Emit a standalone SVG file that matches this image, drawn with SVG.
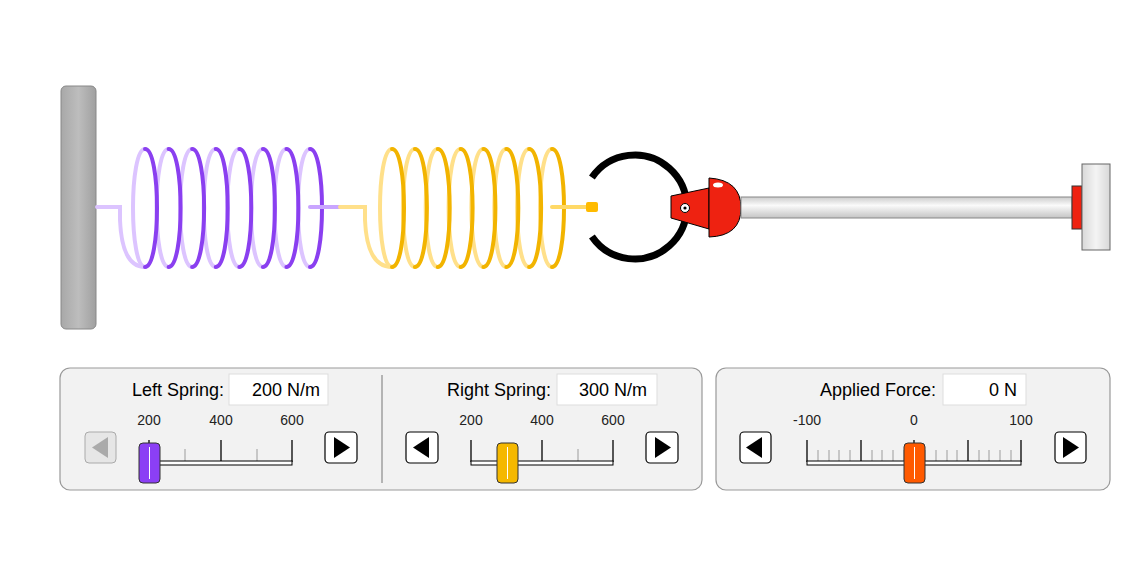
<svg xmlns="http://www.w3.org/2000/svg" width="1133" height="574" viewBox="0 0 1133 574">
<style>
text{font-family:"Liberation Sans",Arial,sans-serif;fill:#000}
.lbl{font-size:18px}
.tk{font-size:14px;fill:#222}
.panel{fill:#f2f2f2;stroke:#999;stroke-width:1.2}
.box{fill:#fff;stroke:#ddd}
.btn{fill:#fff;stroke:#000;stroke-width:1.2}
.maj{stroke:#000;stroke-width:1.3}
.min{stroke:#aaa;stroke-width:1.2}
.track{fill:#fff;stroke:#000;stroke-width:1}
</style>
<defs>
<linearGradient id="wall" x1="0" x2="1"><stop offset="0" stop-color="#a8a8a8"/><stop offset="0.5" stop-color="#bdbdbd"/><stop offset="1" stop-color="#a0a0a0"/></linearGradient>
<linearGradient id="rod" x1="0" y1="0" x2="0" y2="1"><stop offset="0" stop-color="#ccc"/><stop offset="0.4" stop-color="#fafafa"/><stop offset="1" stop-color="#c4c4c4"/></linearGradient>
<linearGradient id="plate" x1="0" x2="1"><stop offset="0" stop-color="#d8d8d8"/><stop offset="0.5" stop-color="#f4f4f4"/><stop offset="1" stop-color="#d8d8d8"/></linearGradient>
</defs>

<g id="wall-left"><rect x="61" y="86" width="35" height="243" rx="5" fill="url(#wall)" stroke="#888"/></g>

<g id="left-spring" fill="none" stroke-width="4" stroke-linecap="round">
<path d="M97 207 H120 V220 Q122 267 145 267" stroke="#dcc4ff"/>
<g stroke="#dcc4ff">
<path d="M145 267 C129 267 129 149 145 149"/><path d="M168.6 267 C152.6 267 152.6 149 168.6 149"/><path d="M192.1 267 C176.1 267 176.1 149 192.1 149"/><path d="M215.7 267 C199.7 267 199.7 149 215.7 149"/><path d="M239.3 267 C223.3 267 223.3 149 239.3 149"/><path d="M262.9 267 C246.9 267 246.9 149 262.9 149"/><path d="M286.4 267 C270.4 267 270.4 149 286.4 149"/><path d="M310 267 C294 267 294 149 310 149"/>
</g>
<g stroke="#8a3ff0">
<path d="M145 149 C161 149 161 267 145 267"/><path d="M168.6 149 C184.6 149 184.6 267 168.6 267"/><path d="M192.1 149 C208.1 149 208.1 267 192.1 267"/><path d="M215.7 149 C231.7 149 231.7 267 215.7 267"/><path d="M239.3 149 C255.3 149 255.3 267 239.3 267"/><path d="M262.9 149 C278.9 149 278.9 267 262.9 267"/><path d="M286.4 149 C302.4 149 302.4 267 286.4 267"/><path d="M310 149 C326 149 326 267 310 267"/>
</g>
<path d="M310 207 H340" stroke="#c9a5ff"/>
</g>

<g id="right-spring" fill="none" stroke-width="4" stroke-linecap="round">
<path d="M340 207 H365 V220 Q367 267 392 267" stroke="#ffe08a"/>
<g stroke="#ffe08a">
<path d="M392 267 C376 267 376 149 392 149"/><path d="M414.9 267 C398.9 267 398.9 149 414.9 149"/><path d="M437.7 267 C421.7 267 421.7 149 437.7 149"/><path d="M460.6 267 C444.6 267 444.6 149 460.6 149"/><path d="M483.4 267 C467.4 267 467.4 149 483.4 149"/><path d="M506.3 267 C490.3 267 490.3 149 506.3 149"/><path d="M529.1 267 C513.1 267 513.1 149 529.1 149"/><path d="M552 267 C536 267 536 149 552 149"/>
</g>
<g stroke="#f2b400">
<path d="M392 149 C408 149 408 267 392 267"/><path d="M414.9 149 C430.9 149 430.9 267 414.9 267"/><path d="M437.7 149 C453.7 149 453.7 267 437.7 267"/><path d="M460.6 149 C476.6 149 476.6 267 460.6 267"/><path d="M483.4 149 C499.4 149 499.4 267 483.4 267"/><path d="M506.3 149 C522.3 149 522.3 267 506.3 267"/><path d="M529.1 149 C545.1 149 545.1 267 529.1 267"/><path d="M552 149 C568 149 568 267 552 267"/>
</g>
<path d="M552 207 H588" stroke="#ffd966"/>
<rect x="586" y="202" width="12" height="10" rx="2" fill="#ffbb00" stroke="none"/>
</g>

<g id="hook">
<path d="M591.9 177.5 A52 52 0 1 1 591.9 236.5" fill="none" stroke="#000" stroke-width="7"/>
<polygon points="671,196 709,188 709,229 671,218" fill="#ee2211" stroke="#000"/>
<circle cx="685" cy="208" r="4.5" fill="#fff" stroke="#000"/><circle cx="685" cy="208" r="1.6" fill="#000"/>
<path d="M709 178 Q741 180 741 208 Q741 236 709 237 Z" fill="#ee2211" stroke="#000"/>
<ellipse cx="718" cy="185" rx="5" ry="2.5" fill="#fff"/>
</g>

<g id="rod">
<rect x="741" y="197" width="331" height="21" fill="url(#rod)" stroke="#888"/>
<rect x="1072" y="186" width="10" height="43" fill="#ee2211" stroke="#333"/>
<rect x="1082" y="164" width="28" height="86" fill="url(#plate)" stroke="#666"/>
</g>

<g id="panel-springs">
<rect class="panel" x="60" y="368" width="642" height="122" rx="10"/>
<line x1="382" y1="375" x2="382" y2="483" stroke="#777"/>
<text class="lbl" x="224" y="396" text-anchor="end">Left Spring:</text>
<rect class="box" x="229" y="374" width="99" height="31"/>
<text class="lbl" x="320" y="396" text-anchor="end">200 N/m</text>
<text class="tk" x="149" y="425" text-anchor="middle">200</text><text class="tk" x="221" y="425" text-anchor="middle">400</text><text class="tk" x="292" y="425" text-anchor="middle">600</text>
<line class="maj" x1="149" y1="440" x2="149" y2="462"/><line class="maj" x1="221" y1="440" x2="221" y2="462"/><line class="maj" x1="292" y1="440" x2="292" y2="462"/>
<line class="min" x1="185" y1="449" x2="185" y2="462"/><line class="min" x1="257" y1="449" x2="257" y2="462"/>
<rect class="track" x="149" y="461" width="143" height="4"/>
<rect x="85" y="432" width="31" height="31" rx="4" fill="#e6e6e6" stroke="#aaa"/>
<polygon points="108,437 108,458 92,447.5" fill="#aaa"/>
<rect class="btn" x="325" y="432" width="32" height="31" rx="4"/>
<polygon points="334,437 334,458 350,447.5"/>
<rect x="139" y="443" width="21" height="40" rx="4" fill="#8b3ff5" stroke="#333"/>
<line x1="149.5" y1="447" x2="149.5" y2="479" stroke="#fff"/>

<text class="lbl" x="551" y="396" text-anchor="end">Right Spring:</text>
<rect class="box" x="557" y="374" width="100" height="31"/>
<text class="lbl" x="647" y="396" text-anchor="end">300 N/m</text>
<text class="tk" x="471" y="425" text-anchor="middle">200</text><text class="tk" x="542" y="425" text-anchor="middle">400</text><text class="tk" x="613" y="425" text-anchor="middle">600</text>
<line class="maj" x1="471" y1="440" x2="471" y2="462"/><line class="maj" x1="542" y1="440" x2="542" y2="462"/><line class="maj" x1="613" y1="440" x2="613" y2="462"/>
<line class="min" x1="507" y1="449" x2="507" y2="462"/><line class="min" x1="578" y1="449" x2="578" y2="462"/>
<rect class="track" x="471" y="461" width="142" height="4"/>
<rect class="btn" x="406" y="432" width="32" height="31" rx="4"/>
<polygon points="429,437 429,458 413,447.5"/>
<rect class="btn" x="646" y="432" width="32" height="31" rx="4"/>
<polygon points="655,437 655,458 671,447.5"/>
<rect x="497" y="443" width="21" height="40" rx="4" fill="#f5b800" stroke="#333"/>
<line x1="507.5" y1="447" x2="507.5" y2="479" stroke="#fff"/>
</g>

<g id="panel-force">
<rect class="panel" x="716" y="368" width="394" height="122" rx="10"/>
<text class="lbl" x="936" y="396" text-anchor="end">Applied Force:</text>
<rect class="box" x="943" y="374" width="83" height="31"/>
<text class="lbl" x="1017" y="396" text-anchor="end">0 N</text>
<text class="tk" x="807" y="425" text-anchor="middle">-100</text><text class="tk" x="914" y="425" text-anchor="middle">0</text><text class="tk" x="1021" y="425" text-anchor="middle">100</text>
<g class="maj"><line x1="807" y1="440" x2="807" y2="462"/><line x1="861" y1="440" x2="861" y2="462"/><line x1="914" y1="440" x2="914" y2="462"/><line x1="968" y1="440" x2="968" y2="462"/><line x1="1021" y1="440" x2="1021" y2="462"/></g>
<g class="min"><line x1="818" y1="450" x2="818" y2="462"/><line x1="829" y1="450" x2="829" y2="462"/><line x1="839" y1="450" x2="839" y2="462"/><line x1="850" y1="450" x2="850" y2="462"/><line x1="872" y1="450" x2="872" y2="462"/><line x1="882" y1="450" x2="882" y2="462"/><line x1="893" y1="450" x2="893" y2="462"/><line x1="904" y1="450" x2="904" y2="462"/><line x1="925" y1="450" x2="925" y2="462"/><line x1="936" y1="450" x2="936" y2="462"/><line x1="947" y1="450" x2="947" y2="462"/><line x1="957" y1="450" x2="957" y2="462"/><line x1="979" y1="450" x2="979" y2="462"/><line x1="989" y1="450" x2="989" y2="462"/><line x1="1000" y1="450" x2="1000" y2="462"/><line x1="1011" y1="450" x2="1011" y2="462"/></g>
<rect class="track" x="807" y="461" width="214" height="4"/>
<rect class="btn" x="740" y="432" width="31" height="31" rx="4"/>
<polygon points="762,437 762,458 746,447.5"/>
<rect class="btn" x="1055" y="432" width="31" height="31" rx="4"/>
<polygon points="1063,437 1063,458 1079,447.5"/>
<rect x="904" y="443" width="21" height="40" rx="4" fill="#ff5a00" stroke="#333"/>
<line x1="914.5" y1="447" x2="914.5" y2="479" stroke="#fff"/>
</g>
</svg>
